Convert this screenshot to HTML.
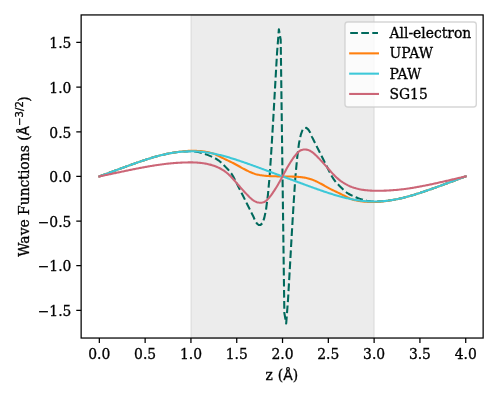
<!DOCTYPE html>
<html><head><meta charset="utf-8"><title>Wave Functions</title>
<style>
html,body{margin:0;padding:0;background:#fff;}
svg{display:block;}
text{font-family:"DejaVu Serif","Liberation Serif",serif;font-size:13.89px;fill:#000;stroke:#000;stroke-width:0.3px;}
.sans{font-family:"DejaVu Sans","Liberation Sans",sans-serif;}
</style></head><body>
<svg width="498" height="399" viewBox="0 0 498 399">
<rect width="498" height="399" fill="#fff"/>
<rect x="190.94" y="14.94" width="183.19" height="323.09" fill="#808080" fill-opacity="0.15" stroke="#808080" stroke-opacity="0.15" stroke-width="1.39"/>
<path d="M99.34,176.41 L101.17,175.73 L103.00,175.06 L104.84,174.38 L106.67,173.70 L108.50,173.02 L110.33,172.35 L112.16,171.67 L114.00,170.99 L115.83,170.32 L117.66,169.64 L119.49,168.97 L121.32,168.29 L123.15,167.62 L124.99,166.95 L126.82,166.29 L128.65,165.62 L130.48,164.96 L132.31,164.31 L134.15,163.66 L135.98,163.01 L137.81,162.37 L139.64,161.74 L141.47,161.12 L143.31,160.50 L145.14,159.90 L146.97,159.31 L148.80,158.73 L150.63,158.16 L152.47,157.61 L154.30,157.07 L156.13,156.55 L157.96,156.05 L159.79,155.57 L161.62,155.11 L163.46,154.67 L165.29,154.25 L167.12,153.86 L168.95,153.49 L170.78,153.15 L172.62,152.83 L174.45,152.54 L176.28,152.28 L178.11,152.05 L179.94,151.84 L181.78,151.67 L183.61,151.53 L185.44,151.42 L187.27,151.34 L189.10,151.29 L190.94,151.27 L192.77,151.33 L194.60,151.48 L196.43,151.72 L198.26,152.05 L200.09,152.47 L201.93,152.97 L203.76,153.54 L205.59,154.18 L207.42,154.88 L209.25,155.63 L211.09,156.40 L212.92,157.20 L214.75,158.06 L216.58,159.06 L218.41,160.29 L220.25,161.80 L222.08,163.51 L223.91,165.32 L225.74,167.13 L227.57,168.97 L229.40,171.00 L231.24,173.41 L233.07,176.35 L234.90,179.73 L236.73,183.35 L238.56,187.03 L240.40,190.66 L242.23,194.30 L244.06,197.90 L245.89,201.60 L247.72,205.20 L249.56,208.90 L251.39,212.60 L253.22,216.20 L255.05,220.55 L256.88,223.45 L258.72,224.95 L260.55,224.85 L262.38,223.30 L264.21,218.20 L266.04,209.70 L267.87,195.30 L269.71,175.50 L271.54,147.60 L273.37,117.30 L275.20,84.90 L277.03,53.30 L278.87,29.30 L280.70,39.80 L282.53,176.41 L284.36,313.02 L286.19,323.52 L288.03,299.52 L289.86,267.92 L291.69,235.52 L293.52,205.22 L295.35,177.32 L297.19,157.52 L299.02,143.12 L300.85,134.62 L302.68,129.52 L304.51,127.97 L306.34,127.87 L308.18,129.37 L310.01,132.27 L311.84,136.62 L313.67,140.22 L315.50,143.92 L317.34,147.62 L319.17,151.22 L321.00,154.92 L322.83,158.52 L324.66,162.16 L326.50,165.79 L328.33,169.47 L330.16,173.09 L331.99,176.47 L333.82,179.41 L335.66,181.82 L337.49,183.85 L339.32,185.69 L341.15,187.50 L342.98,189.31 L344.81,191.02 L346.65,192.53 L348.48,193.76 L350.31,194.76 L352.14,195.62 L353.97,196.42 L355.81,197.19 L357.64,197.94 L359.47,198.64 L361.30,199.28 L363.13,199.85 L364.97,200.35 L366.80,200.77 L368.63,201.10 L370.46,201.34 L372.29,201.49 L374.12,201.55 L375.96,201.53 L377.79,201.48 L379.62,201.40 L381.45,201.29 L383.28,201.15 L385.12,200.98 L386.95,200.77 L388.78,200.54 L390.61,200.28 L392.44,199.99 L394.28,199.67 L396.11,199.33 L397.94,198.96 L399.77,198.57 L401.60,198.15 L403.44,197.71 L405.27,197.25 L407.10,196.77 L408.93,196.27 L410.76,195.75 L412.59,195.21 L414.43,194.66 L416.26,194.09 L418.09,193.51 L419.92,192.92 L421.75,192.32 L423.59,191.70 L425.42,191.08 L427.25,190.45 L429.08,189.81 L430.91,189.16 L432.75,188.51 L434.58,187.86 L436.41,187.20 L438.24,186.53 L440.07,185.87 L441.91,185.20 L443.74,184.53 L445.57,183.85 L447.40,183.18 L449.23,182.50 L451.06,181.83 L452.90,181.15 L454.73,180.47 L456.56,179.80 L458.39,179.12 L460.22,178.44 L462.06,177.76 L463.89,177.09 L465.72,176.41" fill="none" stroke="#00695c" stroke-width="2.083" stroke-dasharray="7.71 3.33" stroke-dashoffset="0.57" stroke-linejoin="round"/>
<path d="M99.34,176.41 L100.26,176.07 L101.17,175.73 L102.09,175.39 L103.00,175.06 L103.92,174.72 L104.84,174.38 L105.75,174.04 L106.67,173.70 L107.58,173.36 L108.50,173.02 L109.42,172.68 L110.33,172.35 L111.25,172.01 L112.16,171.67 L113.08,171.33 L114.00,170.99 L114.91,170.65 L115.83,170.32 L116.74,169.98 L117.66,169.64 L118.57,169.30 L119.49,168.97 L120.41,168.63 L121.32,168.29 L122.24,167.96 L123.15,167.62 L124.07,167.29 L124.99,166.95 L125.90,166.62 L126.82,166.29 L127.73,165.95 L128.65,165.62 L129.57,165.29 L130.48,164.96 L131.40,164.63 L132.31,164.31 L133.23,163.98 L134.15,163.66 L135.06,163.33 L135.98,163.01 L136.89,162.69 L137.81,162.37 L138.73,162.05 L139.64,161.74 L140.56,161.43 L141.47,161.12 L142.39,160.81 L143.31,160.50 L144.22,160.20 L145.14,159.90 L146.05,159.60 L146.97,159.31 L147.89,159.02 L148.80,158.73 L149.72,158.44 L150.63,158.16 L151.55,157.88 L152.47,157.61 L153.38,157.34 L154.30,157.07 L155.21,156.81 L156.13,156.55 L157.04,156.30 L157.96,156.05 L158.88,155.81 L159.79,155.57 L160.71,155.34 L161.62,155.11 L162.54,154.89 L163.46,154.67 L164.37,154.46 L165.29,154.25 L166.20,154.05 L167.12,153.86 L168.04,153.67 L168.95,153.49 L169.87,153.31 L170.78,153.15 L171.70,152.98 L172.62,152.83 L173.53,152.67 L174.45,152.51 L175.36,152.36 L176.28,152.21 L177.20,152.07 L178.11,151.94 L179.03,151.81 L179.94,151.70 L180.86,151.59 L181.78,151.49 L182.69,151.39 L183.61,151.30 L184.52,151.20 L185.44,151.10 L186.36,151.01 L187.27,150.94 L188.19,150.87 L189.10,150.82 L190.02,150.79 L190.94,150.77 L191.85,150.78 L192.77,150.79 L193.68,150.81 L194.60,150.84 L195.51,150.87 L196.43,150.90 L197.35,150.95 L198.26,150.99 L199.18,151.04 L200.09,151.09 L201.01,151.15 L201.93,151.24 L202.84,151.35 L203.76,151.48 L204.67,151.63 L205.59,151.78 L206.51,151.95 L207.42,152.13 L208.34,152.31 L209.25,152.49 L210.17,152.69 L211.09,152.92 L212.00,153.17 L212.92,153.44 L213.83,153.75 L214.75,154.10 L215.67,154.52 L216.58,154.98 L217.50,155.45 L218.41,155.90 L219.33,156.36 L220.25,156.82 L221.16,157.28 L222.08,157.74 L222.99,158.19 L223.91,158.64 L224.83,159.08 L225.74,159.53 L226.66,159.97 L227.57,160.41 L228.49,160.85 L229.40,161.29 L230.32,161.72 L231.24,162.15 L232.15,162.58 L233.07,163.03 L233.98,163.51 L234.90,164.00 L235.82,164.50 L236.73,165.00 L237.65,165.51 L238.56,166.01 L239.48,166.52 L240.40,167.03 L241.31,167.54 L242.23,168.05 L243.14,168.55 L244.06,169.03 L244.98,169.51 L245.89,170.00 L246.81,170.48 L247.72,170.94 L248.64,171.39 L249.56,171.81 L250.47,172.20 L251.39,172.58 L252.30,172.95 L253.22,173.31 L254.14,173.63 L255.05,173.93 L255.97,174.19 L256.88,174.42 L257.80,174.64 L258.72,174.84 L259.63,175.02 L260.55,175.18 L261.46,175.32 L262.38,175.45 L263.30,175.56 L264.21,175.67 L265.13,175.77 L266.04,175.85 L266.96,175.93 L267.87,175.99 L268.79,176.05 L269.71,176.10 L270.62,176.14 L271.54,176.19 L272.45,176.22 L273.37,176.26 L274.29,176.28 L275.20,176.30 L276.12,176.32 L277.03,176.34 L277.95,176.36 L278.87,176.38 L279.78,176.39 L280.70,176.40 L281.61,176.41 L282.53,176.41 L283.45,176.41 L284.36,176.42 L285.28,176.43 L286.19,176.44 L287.11,176.46 L288.03,176.48 L288.94,176.50 L289.86,176.52 L290.77,176.54 L291.69,176.56 L292.61,176.60 L293.52,176.63 L294.44,176.68 L295.35,176.72 L296.27,176.77 L297.19,176.83 L298.10,176.89 L299.02,176.97 L299.93,177.05 L300.85,177.15 L301.76,177.26 L302.68,177.37 L303.60,177.50 L304.51,177.64 L305.43,177.80 L306.34,177.98 L307.26,178.18 L308.18,178.40 L309.09,178.63 L310.01,178.89 L310.92,179.19 L311.84,179.51 L312.76,179.87 L313.67,180.24 L314.59,180.62 L315.50,181.01 L316.42,181.43 L317.34,181.88 L318.25,182.34 L319.17,182.82 L320.08,183.31 L321.00,183.79 L321.92,184.27 L322.83,184.77 L323.75,185.28 L324.66,185.79 L325.58,186.30 L326.50,186.81 L327.41,187.31 L328.33,187.82 L329.24,188.32 L330.16,188.82 L331.08,189.31 L331.99,189.79 L332.91,190.24 L333.82,190.67 L334.74,191.10 L335.66,191.53 L336.57,191.97 L337.49,192.41 L338.40,192.85 L339.32,193.29 L340.23,193.74 L341.15,194.18 L342.07,194.63 L342.98,195.08 L343.90,195.54 L344.81,196.00 L345.73,196.46 L346.65,196.92 L347.56,197.37 L348.48,197.84 L349.39,198.30 L350.31,198.72 L351.23,199.07 L352.14,199.38 L353.06,199.65 L353.97,199.90 L354.89,200.13 L355.81,200.33 L356.72,200.51 L357.64,200.69 L358.55,200.87 L359.47,201.04 L360.39,201.19 L361.30,201.34 L362.22,201.47 L363.13,201.58 L364.05,201.67 L364.97,201.73 L365.88,201.78 L366.80,201.83 L367.71,201.87 L368.63,201.92 L369.55,201.95 L370.46,201.98 L371.38,202.01 L372.29,202.03 L373.21,202.04 L374.12,202.05 L375.04,202.03 L375.96,202.00 L376.87,201.95 L377.79,201.88 L378.70,201.81 L379.62,201.72 L380.54,201.62 L381.45,201.52 L382.37,201.43 L383.28,201.33 L384.20,201.23 L385.12,201.12 L386.03,201.01 L386.95,200.88 L387.86,200.75 L388.78,200.61 L389.70,200.46 L390.61,200.31 L391.53,200.15 L392.44,199.99 L393.36,199.84 L394.28,199.67 L395.19,199.51 L396.11,199.33 L397.02,199.15 L397.94,198.96 L398.86,198.77 L399.77,198.57 L400.69,198.36 L401.60,198.15 L402.52,197.93 L403.44,197.71 L404.35,197.48 L405.27,197.25 L406.18,197.01 L407.10,196.77 L408.02,196.52 L408.93,196.27 L409.85,196.01 L410.76,195.75 L411.68,195.48 L412.59,195.21 L413.51,194.94 L414.43,194.66 L415.34,194.38 L416.26,194.09 L417.17,193.80 L418.09,193.51 L419.01,193.22 L419.92,192.92 L420.84,192.62 L421.75,192.32 L422.67,192.01 L423.59,191.70 L424.50,191.39 L425.42,191.08 L426.33,190.77 L427.25,190.45 L428.17,190.13 L429.08,189.81 L430.00,189.49 L430.91,189.16 L431.83,188.84 L432.75,188.51 L433.66,188.19 L434.58,187.86 L435.49,187.53 L436.41,187.20 L437.33,186.87 L438.24,186.53 L439.16,186.20 L440.07,185.87 L440.99,185.53 L441.91,185.20 L442.82,184.86 L443.74,184.53 L444.65,184.19 L445.57,183.85 L446.49,183.52 L447.40,183.18 L448.32,182.84 L449.23,182.50 L450.15,182.17 L451.06,181.83 L451.98,181.49 L452.90,181.15 L453.81,180.81 L454.73,180.47 L455.64,180.14 L456.56,179.80 L457.48,179.46 L458.39,179.12 L459.31,178.78 L460.22,178.44 L461.14,178.10 L462.06,177.76 L462.97,177.43 L463.89,177.09 L464.80,176.75 L465.72,176.41" fill="none" stroke="#ff7f0e" stroke-width="2.083" stroke-linecap="square" stroke-linejoin="round"/>
<path d="M99.34,176.41 L100.26,176.07 L101.17,175.73 L102.09,175.39 L103.00,175.06 L103.92,174.72 L104.84,174.38 L105.75,174.04 L106.67,173.70 L107.58,173.36 L108.50,173.02 L109.42,172.68 L110.33,172.35 L111.25,172.01 L112.16,171.67 L113.08,171.33 L114.00,170.99 L114.91,170.65 L115.83,170.32 L116.74,169.98 L117.66,169.64 L118.57,169.30 L119.49,168.97 L120.41,168.63 L121.32,168.29 L122.24,167.96 L123.15,167.62 L124.07,167.29 L124.99,166.95 L125.90,166.62 L126.82,166.29 L127.73,165.95 L128.65,165.62 L129.57,165.29 L130.48,164.96 L131.40,164.63 L132.31,164.31 L133.23,163.98 L134.15,163.66 L135.06,163.33 L135.98,163.01 L136.89,162.69 L137.81,162.37 L138.73,162.05 L139.64,161.74 L140.56,161.43 L141.47,161.12 L142.39,160.81 L143.31,160.50 L144.22,160.20 L145.14,159.90 L146.05,159.60 L146.97,159.31 L147.89,159.02 L148.80,158.73 L149.72,158.44 L150.63,158.16 L151.55,157.88 L152.47,157.61 L153.38,157.34 L154.30,157.07 L155.21,156.81 L156.13,156.55 L157.04,156.30 L157.96,156.05 L158.88,155.81 L159.79,155.57 L160.71,155.34 L161.62,155.11 L162.54,154.89 L163.46,154.67 L164.37,154.46 L165.29,154.25 L166.20,154.05 L167.12,153.86 L168.04,153.67 L168.95,153.49 L169.87,153.31 L170.78,153.15 L171.70,152.98 L172.62,152.83 L173.53,152.68 L174.45,152.54 L175.36,152.41 L176.28,152.28 L177.20,152.16 L178.11,152.05 L179.03,151.94 L179.94,151.84 L180.86,151.75 L181.78,151.67 L182.69,151.60 L183.61,151.53 L184.52,151.47 L185.44,151.42 L186.36,151.37 L187.27,151.34 L188.19,151.31 L189.10,151.29 L190.02,151.28 L190.94,151.27 L191.85,151.28 L192.77,151.29 L193.68,151.31 L194.60,151.34 L195.51,151.37 L196.43,151.42 L197.35,151.47 L198.26,151.53 L199.18,151.60 L200.09,151.67 L201.01,151.75 L201.93,151.84 L202.84,151.94 L203.76,152.05 L204.67,152.16 L205.59,152.28 L206.51,152.41 L207.42,152.54 L208.34,152.68 L209.25,152.83 L210.17,152.98 L211.09,153.15 L212.00,153.31 L212.92,153.49 L213.83,153.67 L214.75,153.86 L215.67,154.05 L216.58,154.25 L217.50,154.46 L218.41,154.67 L219.33,154.89 L220.25,155.11 L221.16,155.34 L222.08,155.57 L222.99,155.81 L223.91,156.05 L224.83,156.30 L225.74,156.55 L226.66,156.81 L227.57,157.07 L228.49,157.34 L229.40,157.61 L230.32,157.88 L231.24,158.16 L232.15,158.44 L233.07,158.73 L233.98,159.02 L234.90,159.31 L235.82,159.60 L236.73,159.90 L237.65,160.20 L238.56,160.50 L239.48,160.81 L240.40,161.12 L241.31,161.43 L242.23,161.74 L243.14,162.05 L244.06,162.37 L244.98,162.69 L245.89,163.01 L246.81,163.33 L247.72,163.66 L248.64,163.98 L249.56,164.31 L250.47,164.63 L251.39,164.96 L252.30,165.29 L253.22,165.62 L254.14,165.95 L255.05,166.29 L255.97,166.62 L256.88,166.95 L257.80,167.29 L258.72,167.62 L259.63,167.96 L260.55,168.29 L261.46,168.63 L262.38,168.97 L263.30,169.30 L264.21,169.64 L265.13,169.98 L266.04,170.32 L266.96,170.65 L267.87,170.99 L268.79,171.33 L269.71,171.67 L270.62,172.01 L271.54,172.35 L272.45,172.68 L273.37,173.02 L274.29,173.36 L275.20,173.70 L276.12,174.04 L277.03,174.38 L277.95,174.72 L278.87,175.06 L279.78,175.39 L280.70,175.73 L281.61,176.07 L282.53,176.41 L283.45,176.75 L284.36,177.09 L285.28,177.43 L286.19,177.76 L287.11,178.10 L288.03,178.44 L288.94,178.78 L289.86,179.12 L290.77,179.46 L291.69,179.80 L292.61,180.14 L293.52,180.47 L294.44,180.81 L295.35,181.15 L296.27,181.49 L297.19,181.83 L298.10,182.17 L299.02,182.50 L299.93,182.84 L300.85,183.18 L301.76,183.52 L302.68,183.85 L303.60,184.19 L304.51,184.53 L305.43,184.86 L306.34,185.20 L307.26,185.53 L308.18,185.87 L309.09,186.20 L310.01,186.53 L310.92,186.87 L311.84,187.20 L312.76,187.53 L313.67,187.86 L314.59,188.19 L315.50,188.51 L316.42,188.84 L317.34,189.16 L318.25,189.49 L319.17,189.81 L320.08,190.13 L321.00,190.45 L321.92,190.77 L322.83,191.08 L323.75,191.39 L324.66,191.70 L325.58,192.01 L326.50,192.32 L327.41,192.62 L328.33,192.92 L329.24,193.22 L330.16,193.51 L331.08,193.80 L331.99,194.09 L332.91,194.38 L333.82,194.66 L334.74,194.94 L335.66,195.21 L336.57,195.48 L337.49,195.75 L338.40,196.01 L339.32,196.27 L340.23,196.52 L341.15,196.77 L342.07,197.01 L342.98,197.25 L343.90,197.48 L344.81,197.71 L345.73,197.93 L346.65,198.15 L347.56,198.36 L348.48,198.57 L349.39,198.77 L350.31,198.96 L351.23,199.15 L352.14,199.33 L353.06,199.51 L353.97,199.67 L354.89,199.84 L355.81,199.99 L356.72,200.14 L357.64,200.28 L358.55,200.41 L359.47,200.54 L360.39,200.66 L361.30,200.77 L362.22,200.88 L363.13,200.98 L364.05,201.07 L364.97,201.15 L365.88,201.22 L366.80,201.29 L367.71,201.35 L368.63,201.40 L369.55,201.45 L370.46,201.48 L371.38,201.51 L372.29,201.53 L373.21,201.54 L374.12,201.55 L375.04,201.54 L375.96,201.53 L376.87,201.51 L377.79,201.48 L378.70,201.45 L379.62,201.40 L380.54,201.35 L381.45,201.29 L382.37,201.22 L383.28,201.15 L384.20,201.07 L385.12,200.98 L386.03,200.88 L386.95,200.77 L387.86,200.66 L388.78,200.54 L389.70,200.41 L390.61,200.28 L391.53,200.14 L392.44,199.99 L393.36,199.84 L394.28,199.67 L395.19,199.51 L396.11,199.33 L397.02,199.15 L397.94,198.96 L398.86,198.77 L399.77,198.57 L400.69,198.36 L401.60,198.15 L402.52,197.93 L403.44,197.71 L404.35,197.48 L405.27,197.25 L406.18,197.01 L407.10,196.77 L408.02,196.52 L408.93,196.27 L409.85,196.01 L410.76,195.75 L411.68,195.48 L412.59,195.21 L413.51,194.94 L414.43,194.66 L415.34,194.38 L416.26,194.09 L417.17,193.80 L418.09,193.51 L419.01,193.22 L419.92,192.92 L420.84,192.62 L421.75,192.32 L422.67,192.01 L423.59,191.70 L424.50,191.39 L425.42,191.08 L426.33,190.77 L427.25,190.45 L428.17,190.13 L429.08,189.81 L430.00,189.49 L430.91,189.16 L431.83,188.84 L432.75,188.51 L433.66,188.19 L434.58,187.86 L435.49,187.53 L436.41,187.20 L437.33,186.87 L438.24,186.53 L439.16,186.20 L440.07,185.87 L440.99,185.53 L441.91,185.20 L442.82,184.86 L443.74,184.53 L444.65,184.19 L445.57,183.85 L446.49,183.52 L447.40,183.18 L448.32,182.84 L449.23,182.50 L450.15,182.17 L451.06,181.83 L451.98,181.49 L452.90,181.15 L453.81,180.81 L454.73,180.47 L455.64,180.14 L456.56,179.80 L457.48,179.46 L458.39,179.12 L459.31,178.78 L460.22,178.44 L461.14,178.10 L462.06,177.76 L462.97,177.43 L463.89,177.09 L464.80,176.75 L465.72,176.41" fill="none" stroke="#3dc8d8" stroke-width="2.083" stroke-linecap="square" stroke-linejoin="round"/>
<path d="M99.34,176.41 L100.26,176.22 L101.17,176.03 L102.09,175.84 L103.00,175.66 L103.92,175.46 L104.84,175.27 L105.75,175.08 L106.67,174.89 L107.58,174.70 L108.50,174.50 L109.42,174.31 L110.33,174.12 L111.25,173.92 L112.16,173.73 L113.08,173.53 L114.00,173.34 L114.91,173.14 L115.83,172.95 L116.74,172.75 L117.66,172.56 L118.57,172.36 L119.49,172.17 L120.41,171.98 L121.32,171.78 L122.24,171.59 L123.15,171.40 L124.07,171.20 L124.99,171.01 L125.90,170.82 L126.82,170.63 L127.73,170.44 L128.65,170.25 L129.57,170.06 L130.48,169.87 L131.40,169.69 L132.31,169.50 L133.23,169.32 L134.15,169.13 L135.06,168.95 L135.98,168.77 L136.89,168.59 L137.81,168.41 L138.73,168.23 L139.64,168.06 L140.56,167.88 L141.47,167.71 L142.39,167.54 L143.31,167.37 L144.22,167.20 L145.14,167.03 L146.05,166.87 L146.97,166.71 L147.89,166.55 L148.80,166.39 L149.72,166.23 L150.63,166.08 L151.55,165.92 L152.47,165.77 L153.38,165.62 L154.30,165.48 L155.21,165.34 L156.13,165.20 L157.04,165.06 L157.96,164.92 L158.88,164.79 L159.79,164.66 L160.71,164.54 L161.62,164.41 L162.54,164.29 L163.46,164.18 L164.37,164.06 L165.29,163.95 L166.20,163.84 L167.12,163.74 L168.04,163.64 L168.95,163.55 L169.87,163.45 L170.78,163.36 L171.70,163.28 L172.62,163.20 L173.53,163.12 L174.45,163.05 L175.36,162.98 L176.28,162.91 L177.20,162.85 L178.11,162.79 L179.03,162.73 L179.94,162.68 L180.86,162.64 L181.78,162.59 L182.69,162.55 L183.61,162.52 L184.52,162.49 L185.44,162.46 L186.36,162.44 L187.27,162.42 L188.19,162.40 L189.10,162.39 L190.02,162.39 L190.94,162.39 L191.85,162.40 L192.77,162.41 L193.68,162.44 L194.60,162.47 L195.51,162.50 L196.43,162.55 L197.35,162.61 L198.26,162.67 L199.18,162.75 L200.09,162.84 L201.01,162.94 L201.93,163.05 L202.84,163.17 L203.76,163.30 L204.67,163.45 L205.59,163.61 L206.51,163.78 L207.42,163.97 L208.34,164.17 L209.25,164.39 L210.17,164.62 L211.09,164.87 L212.00,165.14 L212.92,165.43 L213.83,165.73 L214.75,166.06 L215.67,166.40 L216.58,166.77 L217.50,167.17 L218.41,167.59 L219.33,168.04 L220.25,168.51 L221.16,169.02 L222.08,169.55 L222.99,170.12 L223.91,170.72 L224.83,171.36 L225.74,172.04 L226.66,172.76 L227.57,173.51 L228.49,174.32 L229.40,175.16 L230.32,176.05 L231.24,176.99 L232.15,177.97 L233.07,178.98 L233.98,180.01 L234.90,181.05 L235.82,182.10 L236.73,183.15 L237.65,184.21 L238.56,185.26 L239.48,186.31 L240.40,187.35 L241.31,188.38 L242.23,189.41 L243.14,190.43 L244.06,191.43 L244.98,192.43 L245.89,193.42 L246.81,194.39 L247.72,195.34 L248.64,196.26 L249.56,197.16 L250.47,198.01 L251.39,198.83 L252.30,199.58 L253.22,200.27 L254.14,200.88 L255.05,201.41 L255.97,201.83 L256.88,202.16 L257.80,202.41 L258.72,202.58 L259.63,202.68 L260.55,202.72 L261.46,202.68 L262.38,202.56 L263.30,202.33 L264.21,201.98 L265.13,201.48 L266.04,200.83 L266.96,200.03 L267.87,199.11 L268.79,198.09 L269.71,196.98 L270.62,195.80 L271.54,194.57 L272.45,193.29 L273.37,191.96 L274.29,190.59 L275.20,189.17 L276.12,187.70 L277.03,186.20 L277.95,184.66 L278.87,183.07 L279.78,181.46 L280.70,179.81 L281.61,178.12 L282.53,176.41 L283.45,174.63 L284.36,172.88 L285.28,171.16 L286.19,169.48 L287.11,167.85 L288.03,166.25 L288.94,164.70 L289.86,163.20 L290.77,161.75 L291.69,160.36 L292.61,159.01 L293.52,157.72 L294.44,156.49 L295.35,155.30 L296.27,154.19 L297.19,153.16 L298.10,152.23 L299.02,151.43 L299.93,150.77 L300.85,150.27 L301.76,149.91 L302.68,149.68 L303.60,149.55 L304.51,149.51 L305.43,149.54 L306.34,149.63 L307.26,149.79 L308.18,150.03 L309.09,150.36 L310.01,150.78 L310.92,151.29 L311.84,151.89 L312.76,152.57 L313.67,153.32 L314.59,154.12 L315.50,154.97 L316.42,155.85 L317.34,156.76 L318.25,157.69 L319.17,158.65 L320.08,159.61 L321.00,160.59 L321.92,161.58 L322.83,162.57 L323.75,163.58 L324.66,164.60 L325.58,165.62 L326.50,166.65 L327.41,167.69 L328.33,168.72 L329.24,169.76 L330.16,170.79 L331.08,171.82 L331.99,172.84 L332.91,173.85 L333.82,174.83 L334.74,175.78 L335.66,176.68 L336.57,177.55 L337.49,178.37 L338.40,179.15 L339.32,179.89 L340.23,180.60 L341.15,181.27 L342.07,181.90 L342.98,182.50 L343.90,183.08 L344.81,183.63 L345.73,184.16 L346.65,184.66 L347.56,185.14 L348.48,185.59 L349.39,186.02 L350.31,186.42 L351.23,186.79 L352.14,187.14 L353.06,187.47 L353.97,187.78 L354.89,188.07 L355.81,188.35 L356.72,188.60 L357.64,188.83 L358.55,189.05 L359.47,189.25 L360.39,189.43 L361.30,189.60 L362.22,189.75 L363.13,189.89 L364.05,190.02 L364.97,190.13 L365.88,190.23 L366.80,190.33 L367.71,190.41 L368.63,190.48 L369.55,190.54 L370.46,190.59 L371.38,190.64 L372.29,190.68 L373.21,190.71 L374.12,190.73 L375.04,190.75 L375.96,190.76 L376.87,190.77 L377.79,190.77 L378.70,190.76 L379.62,190.76 L380.54,190.75 L381.45,190.73 L382.37,190.71 L383.28,190.69 L384.20,190.66 L385.12,190.63 L386.03,190.59 L386.95,190.55 L387.86,190.51 L388.78,190.46 L389.70,190.41 L390.61,190.35 L391.53,190.29 L392.44,190.22 L393.36,190.15 L394.28,190.08 L395.19,190.01 L396.11,189.93 L397.02,189.84 L397.94,189.76 L398.86,189.67 L399.77,189.57 L400.69,189.48 L401.60,189.37 L402.52,189.27 L403.44,189.16 L404.35,189.05 L405.27,188.93 L406.18,188.81 L407.10,188.68 L408.02,188.55 L408.93,188.42 L409.85,188.28 L410.76,188.14 L411.68,187.99 L412.59,187.85 L413.51,187.69 L414.43,187.54 L415.34,187.38 L416.26,187.22 L417.17,187.06 L418.09,186.89 L419.01,186.72 L419.92,186.55 L420.84,186.38 L421.75,186.21 L422.67,186.03 L423.59,185.85 L424.50,185.67 L425.42,185.49 L426.33,185.31 L427.25,185.12 L428.17,184.94 L429.08,184.75 L430.00,184.56 L430.91,184.37 L431.83,184.17 L432.75,183.98 L433.66,183.78 L434.58,183.58 L435.49,183.38 L436.41,183.18 L437.33,182.97 L438.24,182.76 L439.16,182.56 L440.07,182.35 L440.99,182.14 L441.91,181.93 L442.82,181.72 L443.74,181.51 L444.65,181.30 L445.57,181.09 L446.49,180.87 L447.40,180.66 L448.32,180.45 L449.23,180.24 L450.15,180.02 L451.06,179.81 L451.98,179.60 L452.90,179.39 L453.81,179.17 L454.73,178.96 L455.64,178.74 L456.56,178.53 L457.48,178.32 L458.39,178.10 L459.31,177.89 L460.22,177.68 L461.14,177.47 L462.06,177.25 L462.97,177.04 L463.89,176.83 L464.80,176.62 L465.72,176.41" fill="none" stroke="#cc6677" stroke-width="2.083" stroke-linecap="square" stroke-linejoin="round"/>
<rect x="81.14" y="14.94" width="402.00" height="323.09" fill="none" stroke="#000" stroke-width="1.25"/>
<path d="M99.34,338.03v4.86 M145.14,338.03v4.86 M190.94,338.03v4.86 M236.73,338.03v4.86 M282.53,338.03v4.86 M328.33,338.03v4.86 M374.12,338.03v4.86 M419.92,338.03v4.86 M465.72,338.03v4.86 M81.14,310.35h-4.86 M81.14,265.70h-4.86 M81.14,221.06h-4.86 M81.14,176.41h-4.86 M81.14,131.76h-4.86 M81.14,87.12h-4.86 M81.14,42.47h-4.86" stroke="#000" stroke-width="1.25" fill="none"/>
<text x="99.34" y="358.6" text-anchor="middle">0.0</text>
<text x="145.14" y="358.6" text-anchor="middle">0.5</text>
<text x="190.94" y="358.6" text-anchor="middle">1.0</text>
<text x="236.73" y="358.6" text-anchor="middle">1.5</text>
<text x="282.53" y="358.6" text-anchor="middle">2.0</text>
<text x="328.33" y="358.6" text-anchor="middle">2.5</text>
<text x="374.12" y="358.6" text-anchor="middle">3.0</text>
<text x="419.92" y="358.6" text-anchor="middle">3.5</text>
<text x="465.72" y="358.6" text-anchor="middle">4.0</text>
<text x="71.42" y="316.40" text-anchor="end">−1.5</text>
<text x="71.42" y="271.05" text-anchor="end">−1.0</text>
<text x="71.42" y="226.95" text-anchor="end">−0.5</text>
<text x="71.42" y="181.75" text-anchor="end">0.0</text>
<text x="71.42" y="137.60" text-anchor="end">0.5</text>
<text x="71.42" y="92.80" text-anchor="end">1.0</text>
<text x="71.42" y="47.80" text-anchor="end">1.5</text>
<text x="265.5" y="379.8" word-spacing="0.6">z (<tspan class="sans">Å</tspan>)</text>
<text transform="translate(28.6,176.48) rotate(-90)" text-anchor="middle">Wave Functions (<tspan class="sans">Å</tspan><tspan class="sans" font-size="10.1" dy="-5.2">−3/2</tspan><tspan dy="5.2" dx="-0.5">)</tspan></text>
<rect x="345.0" y="22.0" width="131.3" height="85.0" rx="2.8" ry="2.8" fill="#fff" fill-opacity="0.8" stroke="#ccc" stroke-opacity="0.8" stroke-width="1.39"/>
<path d="M350.2,33.07h27.78" stroke="#00695c" stroke-width="2.083" stroke-dasharray="7.71 3.33" fill="none"/>
<text x="389.5" y="37.80">All-electron</text>
<path d="M350.2,53.36h27.78" stroke="#ff7f0e" stroke-width="2.083" stroke-linecap="square" fill="none"/>
<text x="389.5" y="58.00">UPAW</text>
<path d="M350.2,73.66h27.78" stroke="#3dc8d8" stroke-width="2.083" stroke-linecap="square" fill="none"/>
<text x="389.5" y="78.95">PAW</text>
<path d="M350.2,93.95h27.78" stroke="#cc6677" stroke-width="2.083" stroke-linecap="square" fill="none"/>
<text x="389.5" y="99.40">SG15</text>
</svg>
</body></html>
